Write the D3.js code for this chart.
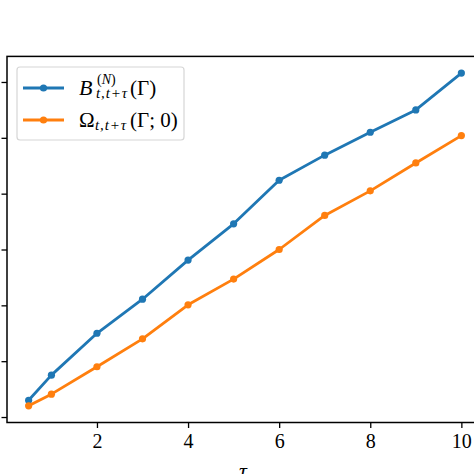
<!DOCTYPE html>
<html>
<head>
<meta charset="utf-8">
<script src="https://d3js.org/d3.v7.min.js"></script>
<style>
  body { margin: 0; background: #fff; }
  svg { display: block; }
</style>
</head>
<body>
<script>
    // data (y labels are cropped, so units are arbitrary)
    const tau = [0.5, 1, 2, 3, 4, 5, 6, 7, 8, 9, 10];
    const bValues = [0.30, 0.75, 1.50, 2.11, 2.81, 3.46, 4.24, 4.69, 5.10, 5.50, 6.16];
    const omegaValues = [0.20, 0.41, 0.90, 1.40, 2.01, 2.47, 3.00, 3.61, 4.05, 4.55, 5.04];
    const xTicks = [2, 4, 6, 8, 10];
    const yTicks = [0, 1, 2, 3, 4, 5, 6];

    let width = 474, height = 474;
    let svg = d3.select("body").append("svg")
        .attr("width", width)
        .attr("height", height);

    // axes box (right edge runs past the crop)
    let boxL = 7, boxR = 483, boxT = 56.4, boxB = 422.5;

    let x = d3.scaleLinear().domain([0.025, 10.475]).range([boxL, boxR]);
    let y = d3.scaleLinear().domain([-0.098, 6.458]).range([boxB, boxT]);

    const serif = "'Liberation Serif', 'DejaVu Serif', serif";

    // x axis
    let xAxis = svg.append("g")
        .attr("transform", `translate(0,${boxB})`)
        .call(d3.axisBottom(x).tickValues(xTicks).tickSize(5.5).tickPadding(6).tickFormat(d3.format("d")));
    xAxis.select(".domain").remove();
    xAxis.selectAll("line").attr("stroke", "#000").attr("stroke-width", 1.3);
    xAxis.selectAll("text").attr("font-family", serif).attr("font-size", 20).attr("fill", "#000");

    // y axis: only the ticks, the labels are outside the crop
    let yAxis = svg.append("g")
        .attr("transform", `translate(${boxL},0)`)
        .call(d3.axisLeft(y).tickValues(yTicks).tickSize(5.5).tickFormat(""));
    yAxis.select(".domain").remove();
    yAxis.selectAll("text").remove();
    yAxis.selectAll("line").attr("stroke", "#000").attr("stroke-width", 1.3);

    // frame
    svg.append("rect")
        .attr("x", boxL).attr("y", boxT)
        .attr("width", boxR - boxL).attr("height", boxB - boxT)
        .attr("fill", "none").attr("stroke", "#000").attr("stroke-width", 1.5);

    // x label
    svg.append("text")
        .attr("x", (boxL + boxR) / 2 - 2).attr("y", 478)
        .attr("text-anchor", "middle")
        .attr("font-family", serif).attr("font-style", "italic").attr("font-size", 22)
        .text("τ");

    // series
    let series = [
        { name: "B", values: bValues, color: "#1f77b4" },
        { name: "Omega", values: omegaValues, color: "#ff7f0e" }
    ];

    let line = d3.line()
        .x((d, i) => x(tau[i]))
        .y(d => y(d));

    let plot = svg.append("g");
    series.forEach(s => {
        plot.append("path")
            .datum(s.values)
            .attr("d", line)
            .attr("fill", "none")
            .attr("stroke", s.color)
            .attr("stroke-width", 2.8)
            .attr("stroke-linejoin", "round");
        plot.selectAll(null)
            .data(s.values)
            .join("circle")
            .attr("cx", (d, i) => x(tau[i]))
            .attr("cy", d => y(d))
            .attr("r", 3.6)
            .attr("fill", s.color);
    });

    // legend
    let legend = svg.append("g");
    legend.append("rect")
        .attr("x", 17).attr("y", 67)
        .attr("width", 167).attr("height", 73)
        .attr("rx", 3)
        .attr("fill", "#fff").attr("fill-opacity", 0.8)
        .attr("stroke", "#d6d6d6").attr("stroke-width", 1.2);

    [88, 120].forEach((ly, i) => {
        legend.append("line")
            .attr("x1", 23).attr("x2", 64)
            .attr("y1", ly).attr("y2", ly)
            .attr("stroke", series[i].color).attr("stroke-width", 2.8);
        legend.append("circle")
            .attr("cx", 43.5).attr("cy", ly).attr("r", 3.6)
            .attr("fill", series[i].color);
    });

    // one piece of the math labels
    function piece(px, py, str, size, italic, spacing) {
        return legend.append("text")
            .attr("x", px).attr("y", py)
            .attr("font-family", serif)
            .attr("font-size", size)
            .attr("font-style", italic ? "italic" : "normal")
            .attr("letter-spacing", spacing || 0)
            .text(str);
    }

    // B^{(N)}_{t,t+τ}(Γ)
    piece(79, 94.5, "B", 22, true);
    let sup = piece(97, 84, "", 14, false);
    sup.append("tspan").text("(");
    sup.append("tspan").attr("font-style", "italic").text("N");
    sup.append("tspan").text(")");
    piece(96, 98, "t,t+τ", 15, true, 0.9);
    piece(130, 94.5, "(Γ)", 21, false);

    // Ω_{t,t+τ}(Γ;0)
    piece(79, 127, "Ω", 21, false);
    piece(95, 130, "t,t+τ", 15, true, 0.9);
    piece(130, 127, "(Γ; 0)", 21, false);
</script>
</body>
</html>
